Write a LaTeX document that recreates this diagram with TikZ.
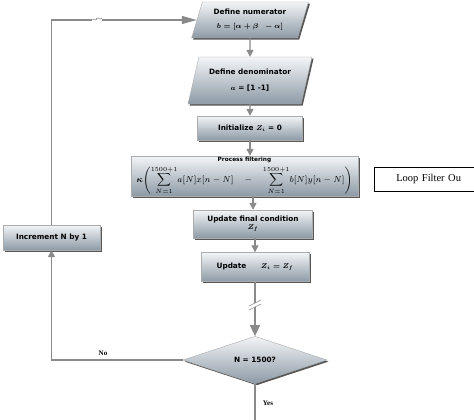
\documentclass[tikz,border=0pt]{standalone}
\usepackage{fontspec}
\usepackage{amsmath}
\newfontfamily\boxfont{DejaVu Sans}
\newfontfamily\serifb{Liberation Serif}
\usetikzlibrary{shapes.geometric,shadows,arrows.meta,calc}
\definecolor{boxtop}{HTML}{F3F5F7}
\definecolor{boxbot}{HTML}{8C9AA6}
\definecolor{linegray}{HTML}{8A8A8A}
\definecolor{shadowgray}{HTML}{3A3A3A}
\begin{document}
\begin{tikzpicture}[x=1pt,y=-1pt,
  boxbase/.style={draw=gray!65, line width=0.4pt, top color=boxtop, bottom color=boxbot,
    drop shadow={shadow xshift=1.6pt, shadow yshift=-1.6pt, fill=shadowgray, opacity=0.85},
    font=\boxfont\bfseries\fontsize{7.3}{9}\selectfont, align=center, inner sep=1pt},
  rectbox/.style={boxbase, rectangle},
  parabox/.style={boxbase, trapezium, trapezium left angle=70, trapezium right angle=110, trapezium stretches=true},
  decbox/.style={boxbase, diamond, inner sep=0pt},
  conn/.style={draw=linegray, line width=1.3pt},
  smalltip/.style={-{Triangle[length=7pt,width=7pt]}},
  bigtip/.style={-{Triangle[length=11pt,width=10pt]}},
  longtip/.style={-{Triangle[length=15pt,width=8pt]}},
  lbl/.style={font=\serifb\bfseries\fontsize{7}{8}\selectfont, inner sep=0pt},
  brk/.style={draw=linegray, line width=0.6pt}
]
\useasboundingbox (0,0) rectangle (474,420);
\clip (0,0) rectangle (474,420);
\fill[white] (0,0) rectangle (474,420);

% nodes
\node[parabox, minimum width=117pt, minimum height=36pt] (num) at (250,20)
  {Define numerator\\[5pt] {\boldmath$b=[\alpha+\beta\ \ -\alpha]$}};
\node[parabox, minimum width=124pt, minimum height=47pt] (den) at (250,80.5)
  {Define denominator\\[7pt] {\boldmath$a$} = [1 -1]};
\node[rectbox, minimum width=105pt, minimum height=24pt] (init) at (250,128)
  {Initialize {\boldmath$Z_i$} = 0};
\node[rectbox, minimum width=227pt, minimum height=40pt, inner sep=0.5pt] (proc) at (244.5,176)
  {{\fontsize{5.8}{6.5}\selectfont Process filtering}\\[1.5pt]
   \resizebox*{216pt}{29pt}{$\boldsymbol{\kappa}\!\left(\displaystyle\sum_{N=1}^{1500+1}\! a[N]x[n-N]\quad - \quad\sum_{N=1}^{1500+1}\! b[N]y[n-N]\right)$}};
\node[rectbox, minimum width=119pt, minimum height=28pt] (upfin) at (253,224)
  {Update final condition\\[-1pt] {\boldmath$Z_f$}};
\node[rectbox, minimum width=108pt, minimum height=29pt] (upd) at (255,267)
  {Update\qquad {\boldmath$Z_i = Z_f$}};
\node[decbox, minimum width=144pt, minimum height=39pt] (dec) at (255,360)
  {N = 1500?};
\node[rectbox, minimum width=97pt, minimum height=25pt] (incr) at (51.5,237.5)
  {Increment N by 1};
\node[draw=black, line width=0.6pt, fill=white, anchor=west, minimum height=24pt,
  minimum width=130pt, text width=86pt,
  font=\serifb\fontsize{10.5}{12}\selectfont, inner xsep=22pt] (loop) at (374,179)
  {Loop Filter Ou};
\node[lbl] (no) at (103,353) {No};
\node[lbl] (yes) at (268,403) {Yes};
\coordinate (bottom) at (255,421);

% connectors
\draw[conn, smalltip] (num.south) -- (den.north);
\draw[conn, smalltip] (den.south) -- (init.north);
\draw[conn, smalltip] (init.south) -- (init.south |- proc.north);
\draw[conn, smalltip] (upfin.north |- proc.south) -- (upfin.north);
\draw[conn, smalltip] (upd.north |- upfin.south) -- (upd.north);
\draw[conn, bigtip] (upd.south) -- (dec.north);
\draw[conn] (dec.south) -- (bottom);
\draw[conn, smalltip] (dec.west) -| (incr.south);
\draw[conn, longtip] (incr.north) |- (num.west);

% break marks
\fill[white] (249,306) -- (261,300) -- (261,304) -- (249,310) -- cycle;
\draw[brk] (249,306) -- (261,300);
\draw[brk] (249,310) -- (261,304);
\fill[white] (92,16) rectangle (102,22);
\draw[brk] (91,20) .. controls (93,17) and (95,22) .. (97,19);
\draw[brk] (96,19) .. controls (98,16) and (100,21) .. (102,18);
\end{tikzpicture}
\end{document}
